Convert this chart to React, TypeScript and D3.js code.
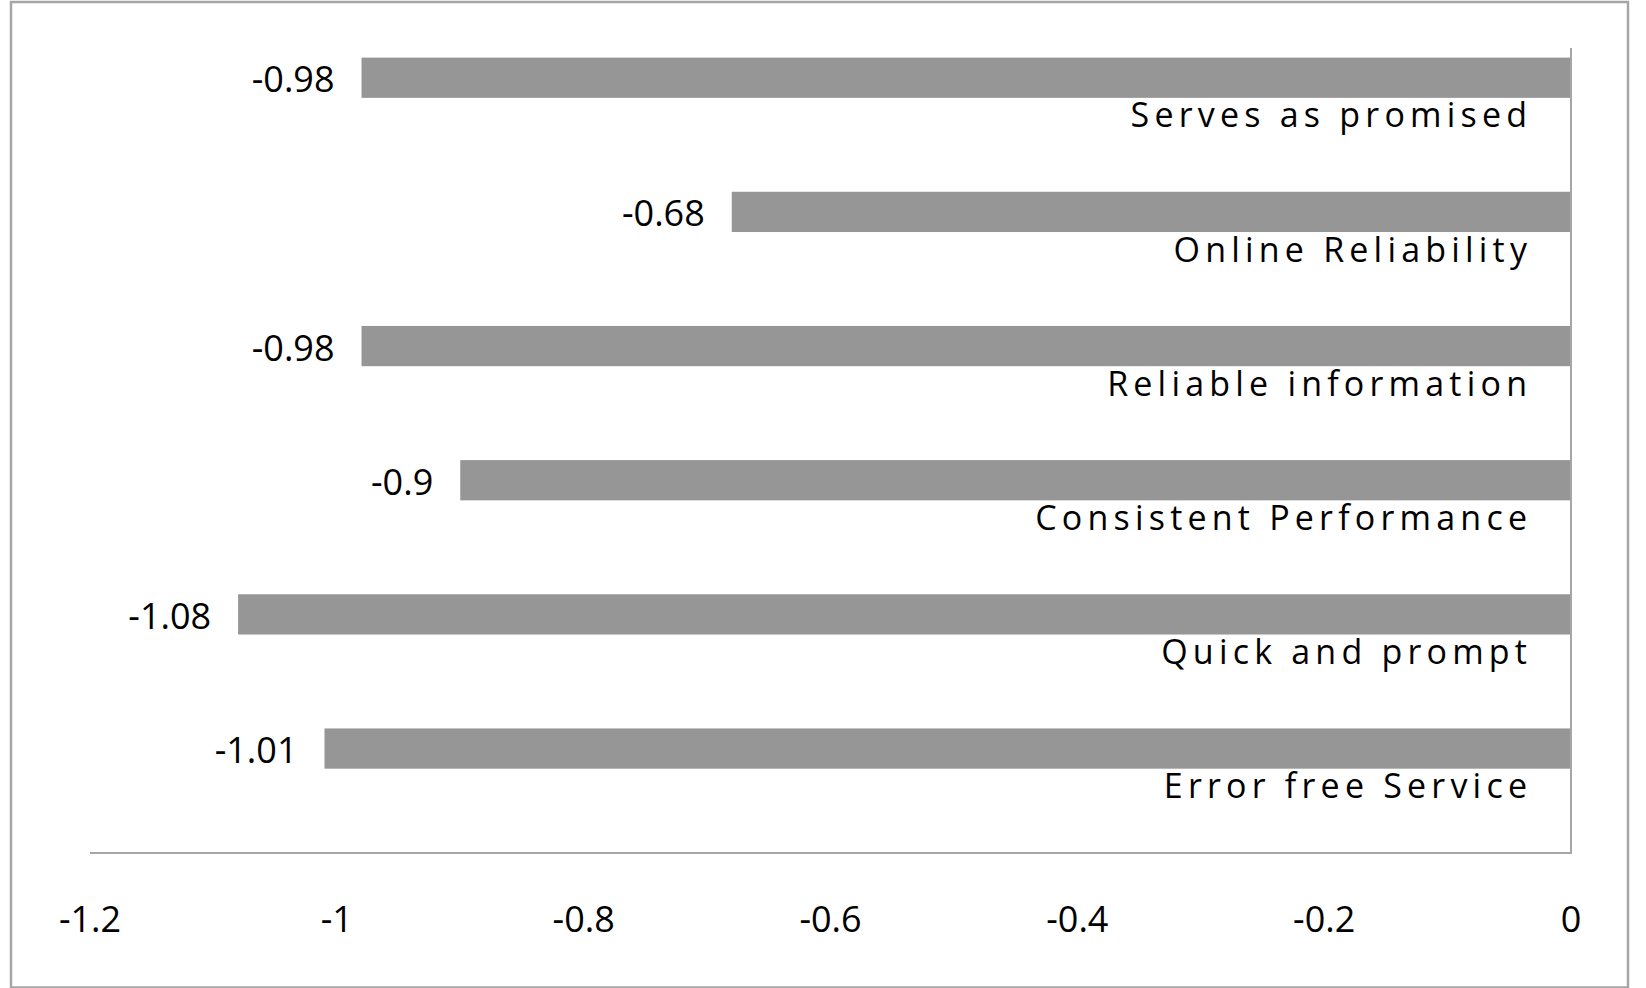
import React from "react";
import * as d3 from "d3";

const categories = [
  "Serves as promised",
  "Online Reliability",
  "Reliable information",
  "Consistent Performance",
  "Quick and prompt",
  "Error free Service",
];
const values = [-0.98, -0.68, -0.98, -0.9, -1.08, -1.01];
const ticks = [-1.2, -1, -0.8, -0.6, -0.4, -0.2, 0];

const W = 1646;
const H = 988;
const plot = { left: 90, right: 1571, top: 48, bottom: 853 };
const gray = "#a6a6a6";
const barColor = "#969696";
const font = "'Open Sans', 'DejaVu Sans', sans-serif";
const fmt = d3.formatLocale({ decimal: ".", thousands: ",", grouping: [3], currency: ["", ""], minus: "-" }).format("");

export default function App() {
  const x = d3.scaleLinear().domain([-1.2, 0]).range([plot.left, plot.right]);
  const y = d3.scaleBand<string>().domain(categories).range([plot.top, plot.bottom]).paddingInner(0).paddingOuter(0);
  const bw = y.bandwidth();
  const barOff = bw * 0.0716;
  const barH = bw * 0.3;
  const ls = 5.2;

  return (
    <svg
      width={W}
      height={H}
      style={{ position: "absolute", left: 0, top: 0, background: "#fff" }}
    >
      <rect x={0} y={0} width={W} height={H} fill="#fff" />
      <rect x={11} y={2} width={1617} height={985.5} fill="none" stroke={gray} strokeWidth={2.5} />

      {categories.map((c, i) => {
        const v = values[i];
        const by = (y(c) as number) + barOff;
        const x0 = x(Math.min(v, 0));
        const x1 = x(Math.max(v, 0));
        return (
          <g key={c}>
            <rect x={x0} y={by} width={x1 - x0} height={barH} fill={barColor} />
            <text
              x={x(v) - 27}
              y={by + barH / 2 + 14.5}
              textAnchor="end"
              fontFamily={font}
              fontSize={36}
              fill="#000"
            >
              {fmt(v)}
            </text>
            <text
              x={1527 + ls}
              y={by + barH + 29.5}
              textAnchor="end"
              fontFamily={font}
              fontSize={34}
              letterSpacing={ls}
              fill="#000"
            >
              {c}
            </text>
          </g>
        );
      })}

      <line x1={plot.right} x2={plot.right} y1={plot.top} y2={plot.bottom} stroke={gray} strokeWidth={2} />
      <line x1={plot.left} x2={plot.right + 1} y1={plot.bottom} y2={plot.bottom} stroke={gray} strokeWidth={2.2} />

      {ticks.map((t) => (
        <text
          key={t}
          x={x(t)}
          y={932}
          textAnchor="middle"
          fontFamily={font}
          fontSize={36}
          fill="#000"
        >
          {fmt(t)}
        </text>
      ))}
    </svg>
  );
}
